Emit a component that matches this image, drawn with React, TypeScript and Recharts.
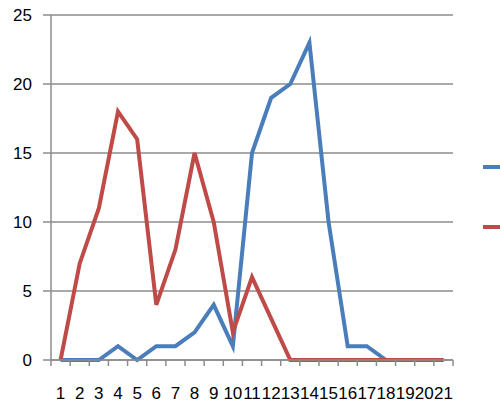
import { CartesianGrid, Line, LineChart, XAxis, YAxis } from "recharts";

const CATEGORIES = ["1", "2", "3", "4", "5", "6", "7", "8", "9", "10", "11", "12", "13", "14", "15", "16", "17", "18", "19", "20", "21"];
const BLUE_VALUES = [0, 0, 0, 1, 0, 1, 1, 2, 4, 1, 15, 19, 20, 23, 10, 1, 1, 0, 0, 0, 0];
const RED_VALUES = [0, 7, 11, 18, 16, 4, 8, 15, 10, 2, 6, 3, 0, 0, 0, 0, 0, 0, 0, 0, 0];
const Y_TICKS = [0, 5, 10, 15, 20, 25];

const BLUE = "#4a7ebb";
const RED = "#be4b48";
const GRID = "#8c8c8c";
const FONT = "'Liberation Sans', Arial, sans-serif";
const TICK = { fontSize: 17, fill: "#000", fontFamily: FONT };

const W = 500;
const H = 416;
const MARGIN = { top: 15, right: 47, bottom: 0, left: 0 };
const Y_WIDTH = 51;
const HALF_BAND = (W - MARGIN.right - Y_WIDTH) / CATEGORIES.length / 2;

const data = CATEGORIES.map((name, i) => ({ name, blue: BLUE_VALUES[i], red: RED_VALUES[i] }));

// Excel puts the tick marks between categories, label in the middle
function CategoryTick(props: any) {
  const { x, y, payload, index } = props;
  const last = index === CATEGORIES.length - 1;
  return (
    <g>
      <line x1={x - HALF_BAND} x2={x - HALF_BAND} y1={y} y2={y + 6} stroke={GRID} strokeWidth={1.5} />
      {last && <line x1={x + HALF_BAND} x2={x + HALF_BAND} y1={y} y2={y + 6} stroke={GRID} strokeWidth={1.5} />}
      <text x={x} y={y + 27} dy="0.71em" textAnchor="middle" fontSize={17} fontFamily={FONT} fill="#000">
        {payload.value}
      </text>
    </g>
  );
}

// legend text sits off the right edge in the reference, only swatches show
function SwatchLegend() {
  return (
    <div style={{ position: "absolute", left: 483, top: 160, width: 17, height: 80 }}>
      <div style={{ position: "absolute", left: 0, top: 5, width: 17, height: 4, background: BLUE }} />
      <div style={{ position: "absolute", left: 0, top: 65, width: 17, height: 4, background: RED }} />
    </div>
  );
}

export default function App() {
  return (
    <div style={{ position: "absolute", left: 0, top: 0, width: W, height: H, background: "#fff" }}>
      <LineChart width={W} height={H} data={data} margin={MARGIN}>
        <CartesianGrid stroke={GRID} strokeWidth={1.5} vertical={false} />
        <XAxis
          dataKey="name"
          scale="band"
          tick={<CategoryTick />}
          tickLine={false}
          axisLine={{ stroke: GRID, strokeWidth: 1.5 }}
          tickSize={0}
          tickMargin={0}
          interval={0}
          height={56}
        />
        <YAxis
          domain={[0, 25]}
          ticks={Y_TICKS}
          tick={TICK}
          tickSize={8}
          tickMargin={11}
          tickLine={{ stroke: GRID, strokeWidth: 1.5 }}
          axisLine={{ stroke: GRID, strokeWidth: 1.5 }}
          width={Y_WIDTH}
        />
        <Line dataKey="blue" name="Series1" stroke={BLUE} strokeWidth={4} dot={false} isAnimationActive={false} strokeLinejoin="miter" />
        <Line dataKey="red" name="Series2" stroke={RED} strokeWidth={4} dot={false} isAnimationActive={false} strokeLinejoin="miter" />
      </LineChart>
      <SwatchLegend />
    </div>
  );
}
